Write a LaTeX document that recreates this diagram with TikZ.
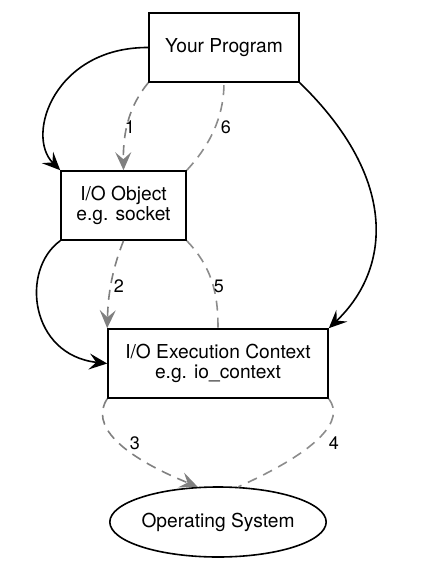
\documentclass[tikz,border=0pt]{standalone}
\usepackage{fontspec}
\setmainfont{TeX Gyre Heros}
\usetikzlibrary{arrows.meta,shapes.geometric}
\tikzset{
  node box/.style   = {draw, line width=0.8pt, minimum height=34.5pt,
                       inner sep=0pt, align=center, fill=white,
                       font=\fontsize{9.6}{10}\selectfont},
  os node/.style    = {draw, ellipse, line width=0.8pt, minimum width=107pt,
                       minimum height=35pt, inner sep=0pt,
                       font=\fontsize{9.6}{10}\selectfont},
  step label/.style = {font=\fontsize{9}{10}\selectfont, inner sep=1pt},
  arr/.style        = {-{Stealth[length=9pt,width=8pt,inset=3.5pt]}, line width=0.8pt},
  dashed arr/.style = {-{Stealth[length=9pt,width=8pt,inset=3.5pt]}, line width=0.8pt,
                       gray, dash pattern=on 5pt off 3.5pt},
  dashed line/.style= {line width=0.8pt, gray!90, dash pattern=on 5pt off 3.5pt},
}
\begin{document}
\begin{tikzpicture}[x=0.5pt, y=-0.5pt]
  \useasboundingbox (0,0) rectangle (440,564);

  \node[node box, minimum width=75pt]  (prog) at (224,47.5)  {Your Program};
  \node[node box, minimum width=62.5pt] (obj) at (123.5,205.5) {I/O Object\\e.g. socket};
  \node[node box, minimum width=110pt] (ctx)  at (218,363.5) {I/O Execution Context\\e.g. io\_context};
  \node[os node]                        (os)   at (218,522)   {Operating System};

  % direct calls
  \draw[arr] (prog.west) .. controls (55,47) and (25,135) .. (obj.north west);
  \draw[arr] (prog.south east) .. controls (400,180) and (390,270) .. (ctx.north east);
  \draw[arr] (obj.south west) .. controls (20,270) and (30,355) .. (ctx.west);

  % numbered steps
  \draw[dashed arr]  (prog.south west) .. controls (130,105) and (123,130) .. (obj.north);
  \draw[dashed line] (obj.north east) .. controls (215,140) and (224,110) .. (prog.south);
  \draw[dashed arr]  (obj.south) .. controls (110,275) and (108,300) .. (ctx.north west);
  \draw[dashed line] (obj.south east) .. controls (215,270) and (218,300) .. (ctx.north);
  \draw[dashed arr]  (ctx.south west) .. controls (90,425) and (120,455) .. (os.120);
  \draw[dashed line] (ctx.south east) .. controls (345,420) and (320,450) .. (os.60);

  \node[step label] (s1) at (130,127) {1};
  \node[step label] (s6) at (226,127) {6};
  \node[step label] (s2) at (119,286) {2};
  \node[step label] (s5) at (219,286) {5};
  \node[step label] (s3) at (135,443) {3};
  \node[step label] (s4) at (334,443) {4};
\end{tikzpicture}
\end{document}
